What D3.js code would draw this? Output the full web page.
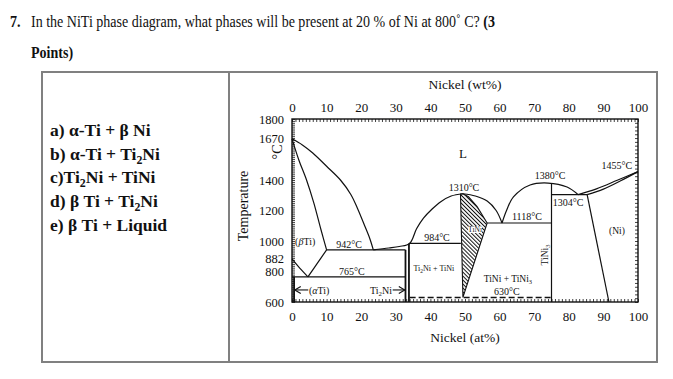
<!DOCTYPE html>
<html>
<head>
<meta charset="utf-8">
<script src="https://cdn.jsdelivr.net/npm/d3@7"></script>
<style>
body { margin: 0; background: #fff; }
svg text { font-family: "Liberation Serif", "Times New Roman", serif; fill: #111; }
</style>
</head>
<body>
<div id="root"></div>
<script>
"use strict";

// axis values
var atTicks = [0, 10, 20, 30, 40, 50, 60, 70, 80, 90, 100];
var wtTicks = [0, 10, 20, 30, 40, 50, 60, 70, 80, 90, 100];
var tempTicks = [600, 800, 882, 1000, 1200, 1400, 1670, 1800];

// phase boundaries as [at% Ni, degC]
var tiLiquidus = [[0, 1670], [3, 1630], [6, 1577], [10, 1490], [14, 1400], [17, 1305], [19, 1210], [21, 1100], [22.5, 1015], [23.5, 942]];
var betaSolvus = [[0, 1670], [2, 1530], [4.2, 1400], [6.3, 1250], [8.4, 1072], [10, 942]];
var betaTransus = [[0, 882], [2.3, 820], [4.6, 765]];
var betaEutectoid = [[4.6, 765], [7.2, 850], [10, 942]];
var tiNiLiquidus = [[23.5, 942], [28, 954], [31, 964], [34, 984], [36, 1080], [38, 1150], [40.5, 1210], [43, 1258], [46, 1295], [49.4, 1310]];
var tiNiDome = [[49.4, 1310], [53, 1295], [56.4, 1262], [59, 1200], [60.7, 1118]];
var tiNi3Dome = [[60.7, 1118], [62, 1200], [64, 1289], [68.8, 1367], [74, 1380], [79.5, 1354], [82.7, 1304]];
var niLiquidus = [[82.7, 1304], [88, 1342], [94, 1398], [100, 1455]];
var niSolidus = [[85.3, 1304], [90, 1340], [95, 1395], [100, 1455]];

var eutectic942 = [[10, 942], [32.8, 942]];
var eutectoid765 = [[0, 765], [32.8, 765]];
var alphaTi = [[0.6, 765], [0.6, 600]];
var ti2NiLeft = [[32.8, 942], [32.8, 600]];
var ti2NiRight = [[33.8, 984], [33.8, 600]];
var peritectic984 = [[33.8, 984], [48.8, 984]];
var eutectic1118 = [[56.4, 1118], [75, 1118]];
var tiNi3Line = [[75, 1380], [75, 600]];
var peritectic1304 = [[75, 1304], [85.3, 1304]];
var niSolvus = [[85.3, 1304], [91.6, 600]];
var order630 = [[34, 630], [75, 630]];

// TiNi single phase field
var tiNiField = [[48.7, 1308], [49.4, 1310], [51, 1290], [53.5, 1225], [56.4, 1118], [49.4, 630]];

// labels: text, at% Ni, degC
var tempLabels = [
    ["1310°C", 49.7, 1330], ["1380°C", 74.6, 1407], ["1455°C", 93.9, 1472],
    ["1304°C", 79.8, 1230], ["1118°C", 67.9, 1138], ["984°C", 41.9, 1000],
    ["942°C", 16.5, 954], ["765°C", 17.3, 774], ["630°C", 62.1, 646]
];
var fieldLabels = [
    ["(Ni)", 93.9, 1046], ["TiNi + TiNi_3", 62.4, 731]
];

var question = "In the NiTi phase diagram, what phases will be present at 20 % of Ni at 800˚ C? ";
var answers = ["a) α-Ti + β Ni", "b) α-Ti + Ti_2Ni", "c)Ti_2Ni + TiNi", "d) β Ti + Ti_2Ni", "e) β Ti + Liquid"];

var width = 673, height = 379;

var svg = d3.select("#root").append("svg")
    .attr("width", width)
    .attr("height", height);

// writes "Ti_2Ni" style strings with subscripts
function richText(sel, str, size) {
    var shift = 0;
    str.split(/(_\d)/).forEach(function (part) {
        if (!part) return;
        if (part[0] === "_") {
            sel.append("tspan").attr("font-size", size * 0.68).attr("dy", size * 0.22).text(part.slice(1));
            shift = -size * 0.22;
        } else {
            sel.append("tspan").attr("dy", shift || null).text(part);
            shift = 0;
        }
    });
}

// question, the scan shows a narrow Times so squeeze it a bit
var sx = 0.825;
var head = svg.append("g").attr("transform", "scale(" + sx + ",1)");
var q = head.append("text").attr("y", 27).attr("font-size", 17);
q.append("tspan").attr("x", 10 / sx).attr("font-weight", "bold").text("7.");
q.append("tspan").attr("x", 31 / sx).text(question);
q.append("tspan").attr("font-weight", "bold").text("(3");
head.append("text").attr("x", 31 / sx).attr("y", 58).attr("font-size", 17)
    .attr("font-weight", "bold").text("Points)");

// table
var table = svg.append("g").attr("fill", "none").attr("stroke", "#808080").attr("stroke-width", 2);
table.append("rect").attr("x", 42).attr("y", 72).attr("width", 615).attr("height", 290);
table.append("line").attr("x1", 229).attr("x2", 229).attr("y1", 72).attr("y2", 362);

svg.append("g").selectAll("text")
    .data(answers)
    .enter()
    .append("text")
    .attr("x", 50)
    .attr("y", function (d, i) { return 136 + i * 23.7; })
    .attr("font-size", 17.5)
    .attr("font-weight", "bold")
    .each(function (d) { richText(d3.select(this), d, 17.5); });

// phase diagram
var x = d3.scaleLinear().domain([0, 100]).range([292, 638]);
var y = d3.scaleLinear().domain([600, 1800]).range([302, 119]);

var defs = svg.append("defs");
defs.append("pattern")
    .attr("id", "hatch")
    .attr("patternUnits", "userSpaceOnUse")
    .attr("width", 2.8)
    .attr("height", 10)
    .attr("patternTransform", "rotate(-45)")
    .append("line")
    .attr("x1", 0.5).attr("x2", 0.5).attr("y1", 0).attr("y2", 10)
    .attr("stroke", "#111").attr("stroke-width", 1);
defs.append("marker")
    .attr("id", "arrow")
    .attr("viewBox", "0 0 8 8")
    .attr("refX", 7).attr("refY", 4)
    .attr("markerWidth", 8).attr("markerHeight", 8)
    .attr("markerUnits", "userSpaceOnUse")
    .attr("orient", "auto")
    .append("path")
    .attr("d", "M1,0.5 L7,4 L1,7.5")
    .attr("fill", "none").attr("stroke", "#111").attr("stroke-width", 1.1);

var g = svg.append("g").attr("class", "diagram");

var smooth = d3.line().x(function (d) { return x(d[0]); }).y(function (d) { return y(d[1]); })
    .curve(d3.curveCatmullRom);
var straight = d3.line().x(function (d) { return x(d[0]); }).y(function (d) { return y(d[1]); });

g.append("path")
    .attr("d", straight(tiNiField) + "Z")
    .attr("fill", "url(#hatch)")
    .attr("stroke", "#111")
    .attr("stroke-width", 1.1);

g.selectAll(".curve")
    .data([tiLiquidus, betaSolvus, betaTransus, betaEutectoid, tiNiLiquidus, tiNiDome, tiNi3Dome, niLiquidus, niSolidus])
    .enter()
    .append("path")
    .classed("curve", true)
    .attr("d", smooth)
    .attr("fill", "none")
    .attr("stroke", "#111")
    .attr("stroke-width", 1.2);

g.selectAll(".tie")
    .data([eutectic942, eutectoid765, peritectic984, eutectic1118, tiNi3Line, peritectic1304, niSolvus])
    .enter()
    .append("path")
    .classed("tie", true)
    .attr("d", straight)
    .attr("fill", "none")
    .attr("stroke", "#111")
    .attr("stroke-width", 1.2);

g.selectAll(".compound")
    .data([alphaTi, ti2NiLeft, ti2NiRight])
    .enter()
    .append("path")
    .classed("compound", true)
    .attr("d", straight)
    .attr("fill", "none")
    .attr("stroke", "#111")
    .attr("stroke-width", 1.8);

g.append("path")
    .attr("d", straight(order630))
    .attr("fill", "none")
    .attr("stroke", "#111")
    .attr("stroke-width", 1.5)
    .attr("stroke-dasharray", "6,3");

// plot frame and ticks
g.append("rect")
    .attr("x", x(0)).attr("y", y(1800))
    .attr("width", x(100) - x(0)).attr("height", y(600) - y(1800))
    .attr("fill", "none").attr("stroke", "#111").attr("stroke-width", 1.4);

function minor(axis, tf) {
    var a = g.append("g").attr("transform", tf).call(axis);
    a.select(".domain").remove();
    a.selectAll("text").remove();
    a.selectAll("line").attr("stroke", "#111").attr("stroke-width", 0.8);
    return a;
}
minor(d3.axisTop(x).tickValues(d3.range(0, 101, 1)).tickSize(-3), "translate(0," + y(1800) + ")");
minor(d3.axisBottom(x).tickValues(d3.range(0, 101, 1)).tickSize(-3), "translate(0," + y(600) + ")");
minor(d3.axisLeft(y).tickValues(d3.range(600, 1801, 12.5)).tickSize(-3), "translate(" + x(0) + ",0)");
minor(d3.axisRight(y).tickValues(d3.range(600, 1801, 25)).tickSize(-3), "translate(" + x(100) + ",0)");

function labels(axis, tf, size) {
    var a = g.append("g").attr("transform", tf).call(axis);
    a.select(".domain").remove();
    a.selectAll("text").attr("font-family", null).attr("font-size", size).attr("fill", "#111");
    return a;
}
labels(d3.axisTop(x).tickValues(wtTicks).tickSize(0).tickPadding(7), "translate(0," + y(1800) + ")", 13);
labels(d3.axisBottom(x).tickValues(atTicks).tickSize(0).tickPadding(10), "translate(0," + y(600) + ")", 13);
labels(d3.axisLeft(y).tickValues(tempTicks).tickSize(0).tickPadding(8).tickFormat(d3.format("d")), "translate(" + x(0) + ",0)", 12.5);

svg.append("text").attr("x", 465).attr("y", 89).attr("text-anchor", "middle")
    .attr("font-size", 13.5).text("Nickel (wt%)");
svg.append("text").attr("x", 465).attr("y", 342).attr("text-anchor", "middle")
    .attr("font-size", 13.5).text("Nickel (at%)");
svg.append("text").attr("transform", "translate(248,206) rotate(-90)").attr("text-anchor", "middle")
    .attr("font-size", 14).text("Temperature");
svg.append("text").attr("transform", "translate(282,152) rotate(-90)").attr("text-anchor", "middle")
    .attr("font-size", 14).text("°C");

// labels inside the diagram
g.selectAll(".temp")
    .data(tempLabels)
    .enter()
    .append("text")
    .classed("temp", true)
    .attr("x", function (d) { return x(d[1]); })
    .attr("y", function (d) { return y(d[2]); })
    .attr("text-anchor", "middle")
    .attr("font-size", 10)
    .text(function (d) { return d[0]; });

g.selectAll(".field")
    .data(fieldLabels)
    .enter()
    .append("text")
    .classed("field", true)
    .attr("x", function (d) { return x(d[1]); })
    .attr("y", function (d) { return y(d[2]); })
    .attr("text-anchor", "middle")
    .attr("font-size", 9.5)
    .each(function (d) { richText(d3.select(this), d[0], 9.5); });

g.append("text").attr("x", x(49.4)).attr("y", y(1544)).attr("text-anchor", "middle")
    .attr("font-size", 13).text("L");

var beta = g.append("text").attr("x", x(0.9)).attr("y", y(974)).attr("font-size", 10);
beta.append("tspan").text("(");
beta.append("tspan").attr("font-style", "italic").text("β");
beta.append("tspan").text("Ti)");

var mix = g.append("text").attr("x", x(41)).attr("y", y(803)).attr("text-anchor", "middle").attr("font-size", 8);
richText(mix, "Ti_2Ni + TiNi", 8);

var tiNi3 = g.append("text").attr("transform", "translate(" + (x(73.1) + 3) + "," + y(908) + ") rotate(-90)")
    .attr("text-anchor", "middle").attr("font-size", 9.5);
richText(tiNi3, "TiNi_3", 9.5);

var tiNiLab = g.append("text").attr("x", x(52.9)).attr("y", y(1059)).attr("text-anchor", "middle")
    .attr("font-size", 7.5).text("TiNi");
var bb = tiNiLab.node().getBBox();
g.insert("rect", function () { return tiNiLab.node(); })
    .attr("x", bb.x).attr("y", bb.y + 1).attr("width", bb.width).attr("height", bb.height - 2)
    .attr("fill", "#fff");

// arrows pointing to the narrow single-phase fields
var alpha = g.append("text").attr("x", x(4.9)).attr("y", y(652)).attr("font-size", 10);
alpha.append("tspan").text("(");
alpha.append("tspan").attr("font-style", "italic").text("α");
alpha.append("tspan").text("Ti)");
var ti2 = g.append("text").attr("x", x(28.9)).attr("y", y(652)).attr("text-anchor", "end").attr("font-size", 10);
richText(ti2, "Ti_2Ni", 10);

g.selectAll(".arrow")
    .data([[[4.7, 679], [0.8, 679]], [[29.1, 679], [32.6, 679]]])
    .enter()
    .append("path")
    .classed("arrow", true)
    .attr("d", straight)
    .attr("stroke", "#111")
    .attr("stroke-width", 1.1)
    .attr("marker-end", "url(#arrow)");
</script>
</body>
</html>
